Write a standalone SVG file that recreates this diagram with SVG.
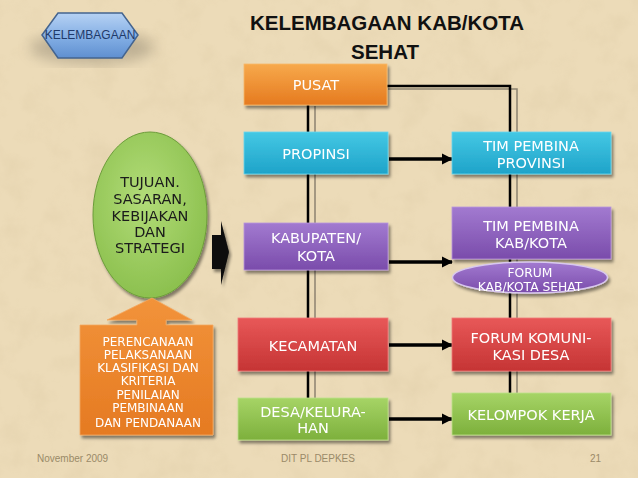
<svg xmlns="http://www.w3.org/2000/svg" width="638" height="478" viewBox="0 0 638 478">
<defs>
<style>
.bx{filter:url(#sh);}
.wt{font-family:"DejaVu Sans",Verdana,sans-serif;fill:#ffffff;text-anchor:middle;font-size:14.5px;}
.dk{font-family:"DejaVu Sans",Verdana,sans-serif;fill:#1a1a1a;text-anchor:middle;font-size:14.5px;}
.ln{stroke:#000;stroke-width:2.5;fill:none;}
.lg{stroke:#8c8270;stroke-width:1.5;fill:none;}
.ar{stroke:#000;stroke-width:3.5;fill:none;marker-end:url(#ah);}
.ft{font-family:"Liberation Sans",Arial,sans-serif;font-size:10px;fill:#9a8a68;}
</style>
<filter id="sh" x="-10%" y="-10%" width="130%" height="140%">
<feDropShadow dx="2" dy="3" stdDeviation="1.8" flood-color="#000" flood-opacity="0.45"/>
</filter>
<filter id="blur"><feGaussianBlur stdDeviation="7"/></filter>
<filter id="tex" x="0" y="0" width="100%" height="100%">
<feTurbulence type="fractalNoise" baseFrequency="0.035" numOctaves="4" seed="3"/>
<feColorMatrix type="matrix" values="0 0 0 0 0.6  0 0 0 0 0.48  0 0 0 0 0.28  0 0 0 -1.6 0.9"/>
</filter>
<marker id="ah" viewBox="0 0 10 10" refX="9" refY="5" markerWidth="3.3" markerHeight="3.3" markerUnits="strokeWidth" orient="auto">
<path d="M0,0 L10,5 L0,10 Z" fill="#000"/>
</marker>
<linearGradient id="gOr" x1="0" y1="0" x2="0" y2="1"><stop offset="0" stop-color="#f7a94c"/><stop offset="1" stop-color="#e57a1f"/></linearGradient>
<linearGradient id="gCy" x1="0" y1="0" x2="0" y2="1"><stop offset="0" stop-color="#44c8e4"/><stop offset="1" stop-color="#1ea3c9"/></linearGradient>
<linearGradient id="gPu" x1="0" y1="0" x2="0" y2="1"><stop offset="0" stop-color="#a27ad0"/><stop offset="1" stop-color="#7a4cab"/></linearGradient>
<linearGradient id="gRd" x1="0" y1="0" x2="0" y2="1"><stop offset="0" stop-color="#e85858"/><stop offset="1" stop-color="#c53434"/></linearGradient>
<linearGradient id="gGr" x1="0" y1="0" x2="0" y2="1"><stop offset="0" stop-color="#a6d466"/><stop offset="1" stop-color="#7db03c"/></linearGradient>
<radialGradient id="gEl" cx="0.45" cy="0.4" r="0.7"><stop offset="0" stop-color="#b2dc78"/><stop offset="1" stop-color="#86bc48"/></radialGradient>
<linearGradient id="gHx" x1="0" y1="0" x2="0" y2="1"><stop offset="0" stop-color="#b6d2f4"/><stop offset="0.6" stop-color="#7eaae2"/><stop offset="1" stop-color="#5f8fd0"/></linearGradient>
<linearGradient id="gCo" x1="0" y1="0" x2="0" y2="1"><stop offset="0" stop-color="#f2933a"/><stop offset="1" stop-color="#e57a22"/></linearGradient>
</defs>

<rect width="638" height="478" fill="#ecdbb8"/>
<rect width="638" height="478" filter="url(#tex)" opacity="0.22"/>

<text x="387" y="30" text-anchor="middle" font-family="'Liberation Sans',Arial,sans-serif" font-weight="bold" font-size="20.5" fill="#111">KELEMBAGAAN KAB/KOTA</text>
<text x="385" y="59" text-anchor="middle" font-family="'Liberation Sans',Arial,sans-serif" font-weight="bold" font-size="20.5" fill="#111">SEHAT</text>

<g id="kelembagaan">
<ellipse cx="92" cy="48" rx="62" ry="16" fill="#6b6354" opacity="0.35" filter="url(#blur)"/>
<polygon points="42,35 58,13 122,13 138,35 122,58 58,58" fill="url(#gHx)" stroke="#44648f" stroke-width="1.5"/>
<text x="90" y="39" text-anchor="middle" font-family="'Liberation Sans',Arial,sans-serif" font-size="12" fill="#1f3a6a">KELEMBAGAAN</text>
</g>

<g id="connectors">
<line class="lg" x1="315" y1="106" x2="315" y2="398"/>
<line class="ln" x1="308" y1="104" x2="308" y2="398"/>
<polyline class="lg" points="388,89 517,89 517,393"/>
<polyline class="ln" points="387,86 510,86 510,393"/>
<line class="ar" x1="389" y1="159" x2="452" y2="159"/>
<line class="ar" x1="389" y1="262" x2="452" y2="262"/>
<line class="ar" x1="389" y1="345" x2="452" y2="345"/>
<line class="ar" x1="389" y1="419" x2="452" y2="419"/>
</g>

<g id="pusat" class="bx"><rect x="244" y="64" width="143" height="41" fill="url(#gOr)" stroke="#f7b86a" stroke-width="0.8"/>
<text class="wt" x="316" y="90">PUSAT</text></g>

<g id="propinsi" class="bx"><rect x="244" y="132" width="144" height="42" fill="url(#gCy)" stroke="#6ad6ee" stroke-width="0.8"/>
<text class="wt" x="316" y="159">PROPINSI</text></g>

<g id="tim-provinsi" class="bx"><rect x="452" y="132" width="159" height="42" fill="url(#gCy)" stroke="#6ad6ee" stroke-width="0.8"/>
<text class="wt" x="531" y="151">TIM PEMBINA</text><text class="wt" x="531" y="168">PROVINSI</text></g>

<g id="kabupaten" class="bx"><rect x="244" y="223" width="144" height="47" fill="url(#gPu)" stroke="#b896dc" stroke-width="0.8"/>
<text class="wt" x="316" y="243">KABUPATEN/</text><text class="wt" x="316" y="261">KOTA</text></g>

<g id="tim-kab" class="bx"><rect x="452" y="207" width="159" height="52" fill="url(#gPu)" stroke="#b896dc" stroke-width="0.8"/>
<text class="wt" x="531" y="231">TIM PEMBINA</text><text class="wt" x="531" y="248">KAB/KOTA</text></g>

<g id="forum-kab" class="bx"><ellipse cx="530" cy="277.5" rx="77.5" ry="15.5" fill="url(#gPu)" stroke="#d8c8ee" stroke-width="1.5"/>
<text class="wt" x="530" y="277" style="font-size:12.3px">FORUM</text><text class="wt" x="530" y="290.5" style="font-size:12.3px">KAB/KOTA SEHAT</text></g>

<g id="kecamatan" class="bx"><rect x="238" y="318" width="150" height="53" fill="url(#gRd)" stroke="#f07a7a" stroke-width="0.8"/>
<text class="wt" x="313" y="351">KECAMATAN</text></g>

<g id="forum-desa" class="bx"><rect x="452" y="318" width="159" height="53" fill="url(#gRd)" stroke="#f07a7a" stroke-width="0.8"/>
<text class="wt" x="531" y="343">FORUM KOMUNI-</text><text class="wt" x="531" y="360">KASI DESA</text></g>

<g id="desa" class="bx"><rect x="238" y="398" width="150" height="42" fill="url(#gGr)" stroke="#bde08a" stroke-width="0.8"/>
<text class="wt" x="313" y="417">DESA/KELURA-</text><text class="wt" x="313" y="433">HAN</text></g>

<g id="kelompok" class="bx"><rect x="452" y="393" width="159" height="42" fill="url(#gGr)" stroke="#bde08a" stroke-width="0.8"/>
<text class="wt" x="531" y="420">KELOMPOK KERJA</text></g>

<g id="tujuan" class="bx"><ellipse cx="150" cy="215" rx="57" ry="83" fill="url(#gEl)" stroke="#6c9c3a" stroke-width="1"/>
<text class="dk" x="150" y="187">TUJUAN.</text>
<text class="dk" x="150" y="204">SASARAN,</text>
<text class="dk" x="150" y="221">KEBIJAKAN</text>
<text class="dk" x="150" y="237">DAN</text>
<text class="dk" x="150" y="253">STRATEGI</text>
</g>

<g id="block-arrow" class="bx"><polygon points="212,235 221,235 221,221 229,252 221,285 221,269 212,269" fill="#0a0a0a"/></g>

<g id="perencanaan" class="bx">
<path d="M80,325 H137 V320 H107 L152,298 L192,320 H166 V325 H213 V435 H80 Z" fill="url(#gCo)" stroke="#f4a860" stroke-width="0.8"/>
<text class="wt" x="148" y="346" style="font-size:12px">PERENCANAAN</text>
<text class="wt" x="148" y="359" style="font-size:12px">PELAKSANAAN</text>
<text class="wt" x="148" y="372" style="font-size:12px">KLASIFIKASI DAN</text>
<text class="wt" x="148" y="385" style="font-size:12px">KRITERIA</text>
<text class="wt" x="148" y="399" style="font-size:12px">PENILAIAN</text>
<text class="wt" x="148" y="412" style="font-size:12px">PEMBINAAN</text>
<text class="wt" x="148" y="427" style="font-size:12px">DAN PENDANAAN</text>
</g>

<text class="ft" x="37" y="462">November 2009</text>
<text class="ft" x="318" y="462" text-anchor="middle">DIT PL DEPKES</text>
<text class="ft" x="601" y="462" text-anchor="end">21</text>
</svg>
